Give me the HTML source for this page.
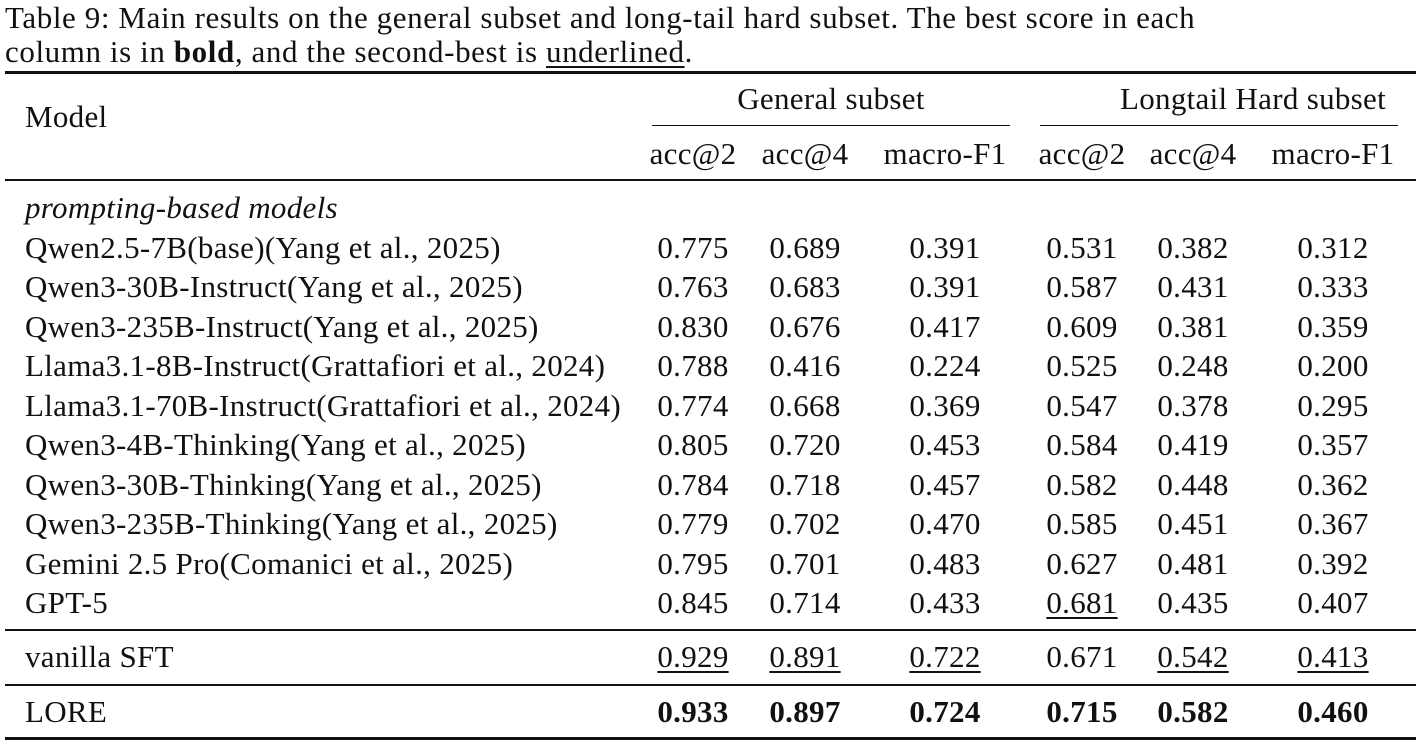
<!DOCTYPE html>
<html><head><meta charset="utf-8"><style>
body{margin:0;width:1416px;height:741px;background:#fff;position:relative;overflow:hidden;font-family:"Liberation Serif",serif;font-size:31px;letter-spacing:0.3px;color:#111}
.t{position:absolute;height:40px;line-height:40px;white-space:nowrap}
.c{position:absolute;height:40px;line-height:40px;width:200px;text-align:center;white-space:nowrap}
.r{position:absolute;background:#111}
.cap{letter-spacing:0.6px}
u{text-decoration-thickness:1.5px;text-underline-offset:4px}
</style></head><body>
<div class="t cap" style="left:5px;top:-2px">Table 9: Main results on the general subset and long-tail hard subset. The best score in each</div>
<div class="t cap" style="left:5px;top:32px">column is in <b>bold</b>, and the second-best is <u>underlined</u>.</div>
<div class="r" style="left:5px;top:71px;width:1411px;height:2.5px"></div>
<div class="t" style="left:25px;top:97px">Model</div>
<div class="c" style="left:731px;top:79px">General subset</div>
<div class="c" style="left:1120px;top:79px">Longtail Hard subset</div>
<div class="r" style="left:652px;top:125px;width:358px;height:1.3px"></div>
<div class="r" style="left:1040px;top:125px;width:358px;height:1.3px"></div>
<div class="c" style="left:593px;top:134px">acc@2</div>
<div class="c" style="left:705px;top:134px">acc@4</div>
<div class="c" style="left:845px;top:134px">macro-F1</div>
<div class="c" style="left:982px;top:134px">acc@2</div>
<div class="c" style="left:1093px;top:134px">acc@4</div>
<div class="c" style="left:1233px;top:134px">macro-F1</div>
<div class="r" style="left:5px;top:179px;width:1411px;height:1.5px"></div>
<div class="t" style="left:25px;top:188px;font-style:italic">prompting-based models</div>
<div id="rows"></div>
<div class="r" style="left:5px;top:629px;width:1411px;height:1.5px"></div>
<div class="r" style="left:5px;top:684px;width:1411px;height:1.5px"></div>
<div class="r" style="left:5px;top:737px;width:1411px;height:2.5px"></div>
<script>
var d=[["Qwen2.5-7B(base)(Yang et al., 2025)","0.775","0.689","0.391","0.531","0.382","0.312"],
["Qwen3-30B-Instruct(Yang et al., 2025)","0.763","0.683","0.391","0.587","0.431","0.333"],
["Qwen3-235B-Instruct(Yang et al., 2025)","0.830","0.676","0.417","0.609","0.381","0.359"],
["Llama3.1-8B-Instruct(Grattafiori et al., 2024)","0.788","0.416","0.224","0.525","0.248","0.200"],
["Llama3.1-70B-Instruct(Grattafiori et al., 2024)","0.774","0.668","0.369","0.547","0.378","0.295"],
["Qwen3-4B-Thinking(Yang et al., 2025)","0.805","0.720","0.453","0.584","0.419","0.357"],
["Qwen3-30B-Thinking(Yang et al., 2025)","0.784","0.718","0.457","0.582","0.448","0.362"],
["Qwen3-235B-Thinking(Yang et al., 2025)","0.779","0.702","0.470","0.585","0.451","0.367"],
["Gemini 2.5 Pro(Comanici et al., 2025)","0.795","0.701","0.483","0.627","0.481","0.392"],
["GPT-5","0.845","0.714","0.433","<u>0.681</u>","0.435","0.407"],
["vanilla SFT","<u>0.929</u>","<u>0.891</u>","<u>0.722</u>","0.671","<u>0.542</u>","<u>0.413</u>"],
["LORE","<b>0.933</b>","<b>0.897</b>","<b>0.724</b>","<b>0.715</b>","<b>0.582</b>","<b>0.460</b>"]];
var ys=[248,287,327,366,406,445,485,524,564,603,657,712];
var xs=[693,805,945,1082,1193,1333];
var h="";
d.forEach(function(r,i){var y=ys[i]-20;
h+='<div class="t" style="left:25px;top:'+y+'px">'+r[0]+'</div>';
for(var j=0;j<6;j++)h+='<div class="c" style="left:'+(xs[j]-100)+'px;top:'+y+'px">'+r[j+1]+'</div>';});
document.getElementById("rows").outerHTML=h;
</script>
</body></html>
